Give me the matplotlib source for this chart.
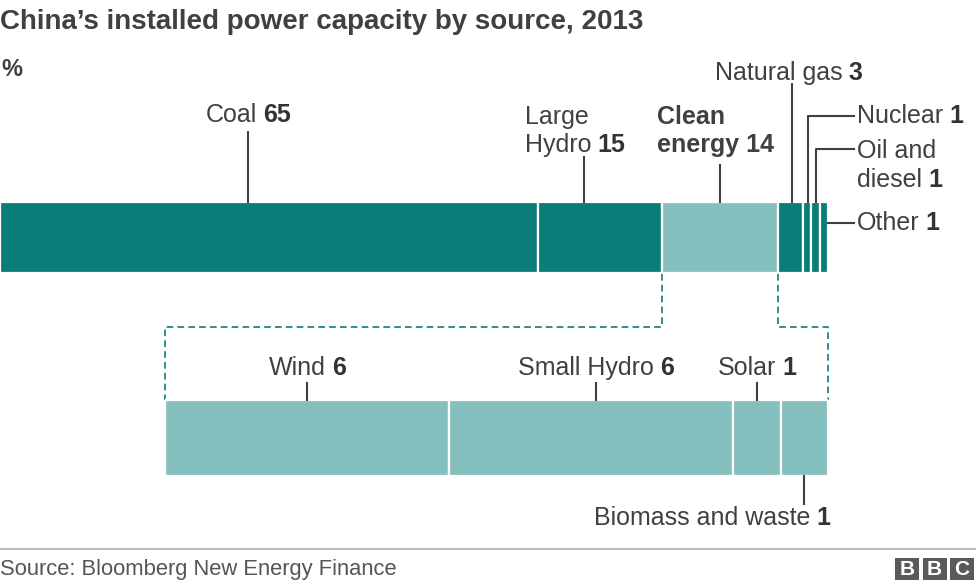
import matplotlib
matplotlib.use("Agg")
import matplotlib.pyplot as plt
from matplotlib.patches import Rectangle
from matplotlib.offsetbox import TextArea, HPacker, VPacker, AnnotationBbox
import numpy as np

# data (% of installed capacity, 2013)
top_names = ["Coal", "Large Hydro", "Clean energy", "Natural gas", "Nuclear", "Oil and diesel", "Other"]
top_values = [65, 15, 14, 3, 1, 1, 1]
clean_names = ["Wind", "Small Hydro", "Solar", "Biomass and waste"]
clean_values = [6, 6, 1, 1]

DARK = "#0b7d79"
LIGHT = "#86c0be"
TXT = "#404040"
FONT = "Liberation Sans"
W, H = 976, 588

plt.rcParams["font.family"] = [FONT, "DejaVu Sans"]

fig = plt.figure(figsize=(W / 100, H / 100), dpi=100)
fig.patch.set_facecolor("white")


def fpx(x, y):
    return x / W, 1 - y / H


# axes use pixel rows on y so both bars share the same vertical scale
ax_top = fig.add_axes([0, 0, 828 / W, 1])
ax_bot = fig.add_axes([165 / W, 0, 663 / W, 1])
for ax in (ax_top, ax_bot):
    ax.set_ylim(H, 0)
    ax.axis("off")
ax_top.set_xlim(0, sum(top_values))
ax_bot.set_xlim(0, sum(clean_values))

# top bar
top_left = np.concatenate([[0], np.cumsum(top_values)[:-1]])
top_colors = [DARK, DARK, LIGHT, DARK, DARK, DARK, DARK]
ax_top.barh(237.5, top_values, left=top_left, height=71, color=top_colors,
            edgecolor="white", linewidth=1.6)

# clean energy breakdown
bot_left = np.concatenate([[0], np.cumsum(clean_values)[:-1]])
ax_bot.barh(438, clean_values, left=bot_left, height=76, color=LIGHT,
            edgecolor="white", linewidth=1.6)

# dashed connector from clean energy segment to breakdown bar
ci = top_names.index("Clean energy")
c0 = top_left[ci]
c1 = c0 + top_values[ci]
inv = ax_top.transData.inverted()
b0 = inv.transform(ax_bot.transData.transform((0, 400)))[0]
b1 = inv.transform(ax_bot.transData.transform((sum(clean_values), 400)))[0]
dash = dict(color=DARK, lw=1.2, ls=(0, (4, 2.5)), clip_on=False)
ax_top.plot([c0, c0, b0, b0], [274, 327, 327, 400], **dash)
ax_top.plot([c1, c1, b1, b1], [274, 327, 327, 400], **dash)


def label(ax, x, y, lines, align=(0.5, 0.5), size=18, bold_all=False):
    rows = []
    for name, val in lines:
        parts = []
        if name:
            parts.append(TextArea(name, textprops=dict(
                fontsize=size, color=TXT, family=FONT,
                fontweight="bold" if bold_all else "normal")))
        if val:
            parts.append(TextArea(val, textprops=dict(
                fontsize=size, color="#333333", family=FONT, fontweight="bold")))
        rows.append(HPacker(children=parts, pad=0, sep=4.5, align="baseline"))
    box = VPacker(children=rows, pad=0, sep=3, align="left")
    ab = AnnotationBbox(box, (x, y), xycoords="data", box_alignment=align,
                        frameon=False, pad=0, annotation_clip=False)
    ax.add_artist(ab)


lead = dict(color=TXT, lw=1.5, clip_on=False)

# top labels
ax_top.plot([30, 30], [132, 202], **lead)
label(ax_top, 30, 115, [("Coal", "65")])

ax_top.plot([70.5, 70.5], [157, 202], **lead)
label(ax_top, 63.4, 131, [("Large", None), ("Hydro", "15")], align=(0, 0.5))

ax_top.plot([87, 87], [165, 202], **lead)
label(ax_top, 79.3, 131, [("Clean", None), ("energy 14", None)], align=(0, 0.5), bold_all=True)

ax_top.plot([95.6, 95.6], [84, 202], **lead)
label(ax_top, 86.3, 73, [("Natural gas", "3")], align=(0, 0.5))

ax_top.plot([97.6, 97.6, 103.2], [202, 116, 116], **lead)
label(ax_top, 103.5, 116, [("Nuclear", "1")], align=(0, 0.5))

ax_top.plot([98.6, 98.6, 103.2], [202, 149, 149], **lead)
label(ax_top, 103.5, 165.5, [("Oil and", None), ("diesel", "1")], align=(0, 0.5))

ax_top.plot([100, 103.2], [223, 223], **lead)
label(ax_top, 103.5, 223, [("Other", "1")], align=(0, 0.5))

# breakdown labels
ax_bot.plot([3.0, 3.0], [383, 400], **lead)
label(ax_bot, 3.0, 368, [("Wind", "6")])
ax_bot.plot([9.1, 9.1], [383, 400], **lead)
label(ax_bot, 9.1, 368, [("Small Hydro", "6")])
ax_bot.plot([12.5, 12.5], [383, 400], **lead)
label(ax_bot, 12.5, 368, [("Solar", "1")])
ax_bot.plot([13.5, 13.5], [476, 504], **lead)
label(ax_bot, 14.05, 518, [("Biomass and waste", "1")], align=(1, 0.5))

# header and footer
fig.text(*fpx(0, 22), "China\u2019s installed power capacity by source, 2013",
         fontsize=20, fontweight="bold", color=TXT, va="center", ha="left")
fig.text(*fpx(1, 70), "%", fontsize=17, fontweight="bold", color=TXT, va="center", ha="left")

fig.add_artist(plt.Line2D([0, 1], [1 - 549 / H] * 2, transform=fig.transFigure,
                          color="#bbbbbb", lw=1.5))
fig.text(*fpx(0, 569), "Source: Bloomberg New Energy Finance", fontsize=15.8,
         color="#555555", va="center", ha="left")

for i, letter in enumerate("BBC"):
    x0 = 895 + i * 27.5
    fig.add_artist(Rectangle(fpx(x0, 580), 24 / W, 22 / H, transform=fig.transFigure,
                             facecolor="#5a5a5a", edgecolor="none"))
    fig.text(*fpx(x0 + 12, 569.5), letter, fontsize=15, color="white",
             fontweight="bold", ha="center", va="center")

fig.savefig("out.png", dpi=100, facecolor="white")
